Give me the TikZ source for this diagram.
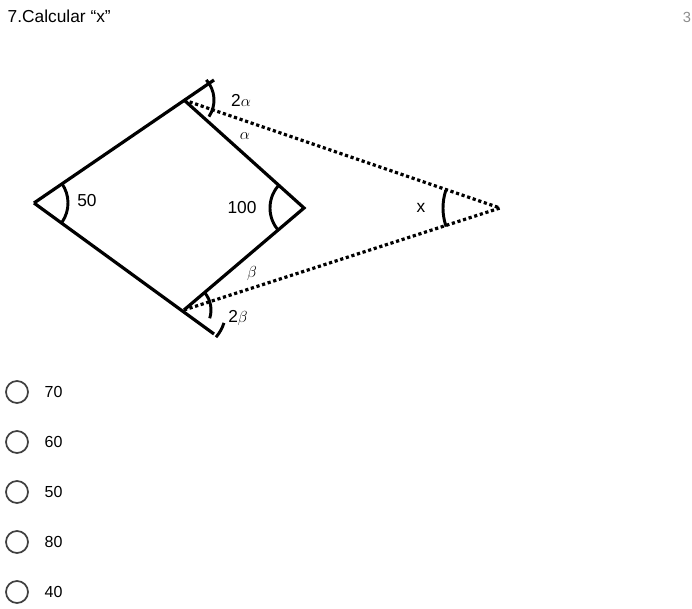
\documentclass[tikz,border=0pt]{standalone}
\usepackage{fontspec}
\setmainfont{Liberation Sans}
\begin{document}
\begin{tikzpicture}[x=0.75pt,y=-0.75pt,
  side/.style={line width=2.4pt},
  dot/.style={line width=2.4pt,dotted},
  ang/.style={line width=2.2pt},
  lab/.style={font=\fontsize{13}{13}\selectfont},
  opt/.style={font=\fontsize{12}{12}\selectfont,anchor=west},
  radio/.style={circle,draw=black!75,line width=1.3pt,minimum size=16.5pt,inner sep=0pt}]
\useasboundingbox (0,0) rectangle (692,609);
\node[anchor=west,font=\fontsize{13}{13}\selectfont] (title) at (3,16) {7.Calcular “x”};
\node[font=\fontsize{11}{11}\selectfont,text=black!45] (pg) at (687,17) {3};
\coordinate (L) at (34,203);
\coordinate (T) at (184,100);
\coordinate (R) at (304,208);
\coordinate (B) at (184,310);
\coordinate (P) at (500,208);
\coordinate (Te) at (214,80);
\coordinate (Be) at (214,334);
\draw[side] (L) -- (Te);
\draw[side] (L) -- (Be);
\draw[side] (T) -- (R) -- (B);
\draw[dot] (T) -- (P) -- (B);
\draw[ang] ([shift={(34.5:34)}]L) arc[start angle=34.5,end angle=-35.5,radius=34];
\draw[ang] ([shift={(138:34)}]R) arc[start angle=138,end angle=220,radius=34];
\draw[ang] ([shift={(33.7:30)}]T) arc[start angle=33.7,end angle=-42,radius=30];
\draw[ang] ([shift={(40.4:42)}]B) arc[start angle=40.4,end angle=17.9,radius=42];
\draw[ang] ([shift={(17.9:27)}]B) arc[start angle=17.9,end angle=-38.7,radius=27];
\draw[ang] ([shift={(161:57)}]P) arc[start angle=161,end angle=198,radius=57];
\node[lab] (a2) at (241,100) {2$\alpha$};
\node[lab] (a1) at (245,136) {$\alpha$};
\node[lab] (n50) at (87,201) {50};
\node[lab] (n100) at (242,208) {100};
\node[lab] (x) at (421,208) {x};
\node[lab] (b1) at (252,274) {$\beta$};
\node[lab] (b2) at (238,318) {2$\beta$};
\foreach \y/\t [count=\i] in {392/70,442/60,492/50,542/80,592/40}{
  \node[radio] (r\i) at (17,\y) {};
  \node[opt] (o\i) at (40,\y) {\t};
}
\end{tikzpicture}
\end{document}
